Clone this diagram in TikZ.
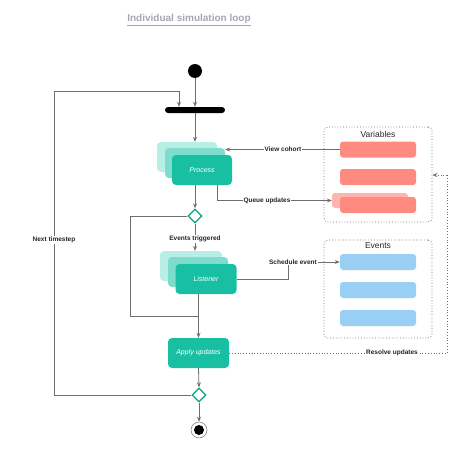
\documentclass[tikz,border=0pt]{standalone}
\usepackage{fontspec}
\setmainfont{Liberation Sans}
\usetikzlibrary{arrows.meta,shapes.geometric,calc}
\definecolor{tealA}{HTML}{19BFA3}
\definecolor{tealB}{HTML}{7EDCCD}
\definecolor{tealC}{HTML}{B9EEE6}
\definecolor{tealD}{HTML}{0E9F87}
\definecolor{salmon}{HTML}{FF8A80}
\definecolor{salmonL}{HTML}{FFB5AD}
\definecolor{skyb}{HTML}{99CFF5}
\definecolor{linec}{HTML}{6E6E6E}
\definecolor{titlec}{HTML}{A4A6B4}
\begin{document}
\begin{tikzpicture}[x=1pt,y=-1pt,
  conn/.style={draw=linec, line width=0.8pt},
  arr/.style={conn, -{Stealth[length=5pt,width=4pt]}},
  dots/.style={draw=linec, line width=0.8pt, dash pattern=on 0.8pt off 2pt},
  act/.style={rounded corners=4pt, inner sep=0pt, minimum width=60pt, minimum height=30pt},
  actfront/.style={act, fill=tealA, text=white, font=\itshape\fontsize{7}{8}\selectfont},
  lbl/.style={fill=white, inner sep=1pt, font=\bfseries\fontsize{6.5}{7}\selectfont, text=black!85},
  bin/.style={dots, rounded corners=4pt, minimum width=108pt, inner sep=0pt},
  item/.style={rounded corners=3pt, inner sep=0pt, minimum width=76pt, minimum height=16pt},
  dec/.style={diamond, draw=tealD, line width=1.3pt, fill=white, inner sep=0pt, minimum width=14pt, minimum height=14pt}
]
\useasboundingbox (0,0) rectangle (474,455);

% title
\node[font=\bfseries\fontsize{10}{12}\selectfont, text=titlec] (title) at (189,20) {\underline{Individual simulation loop}};

% start, bar
\node[circle, fill=black, inner sep=0pt, minimum size=14pt] (start) at (195,71) {};
\node[rectangle, rounded corners=3pt, fill=black, inner sep=0pt, minimum width=60pt, minimum height=6pt] (bar) at (195,110) {};

% process stack
\node[act, fill=tealC] (pback) at (187,157) {};
\node[act, fill=tealB] (pmid) at (195,163) {};
\node[actfront] (pfront) at (202,170) {Process};

% decision 1
\node[dec] (d1) at (195,216) {};

% listener stack
\node[act, fill=tealC, minimum width=62pt] (lback) at (191,266) {};
\node[act, fill=tealB] (lmid) at (198,272) {};
\node[actfront, minimum width=61pt] (lfront) at (206,279) {Listener};

% apply updates
\node[actfront, minimum width=61pt] (apply) at (198.5,353) {Apply updates};

% decision 2, end
\node[dec] (d2) at (199,395) {};
\node[circle, draw=linec, line width=0.5pt, fill=white, inner sep=0pt, minimum size=16pt] (end) at (199,430) {};
\node[circle, fill=black, inner sep=0pt, minimum size=10pt] (endin) at (end.center) {};

% Variables container
\node[bin, minimum height=95pt] (vars) at (378,174.5) {};
\node[font=\fontsize{8.5}{10}\selectfont, text=black!85] (varsl) at (378,134) {Variables};
\node[item, fill=salmon] (var1) at (378,149.5) {};
\node[item, fill=salmon] (var2) at (378,177) {};
\node[item, fill=salmonL, minimum height=15pt] (vshadow) at (370,200.5) {};
\node[item, fill=salmon] (var3) at (378,205) {};

% Events container
\node[bin, minimum height=98pt] (evs) at (378,289) {};
\node[font=\fontsize{8.5}{10}\selectfont, text=black!85] (evsl) at (378,246) {Events};
\node[item, fill=skyb] (ev1) at (378,262) {};
\node[item, fill=skyb] (ev2) at (378,290) {};
\node[item, fill=skyb] (ev3) at (378,318) {};

% coordinates
\coordinate (cl) at (54,91);
\coordinate (ci) at (130,316);
\coordinate (cs) at (288,270);
\coordinate (cr) at (447,175);

% connectors
\draw[arr] (start) -- (bar);
\draw[arr] (d2.west) -| (cl) -| ($(bar.north)+(-16,0)$);
\draw[arr] (bar.south) -- (bar.south |- pback.north);
\draw[arr] (var1.west) -- (var1.west -| pmid.east);
\draw[arr] ($(pfront.south west)+(46,0)$) |- (vshadow.west);
\draw[arr] (d1 |- pfront.south) -- (d1.north);
\draw[arr] (d1.south) -- (d1 |- lback.north);
\draw[conn] (d1.west) -| (ci) -- (ci -| apply);
\draw[arr] (lfront.south -| apply) -- (apply.north);
\draw[arr] (lfront.east) -- (lfront.east -| cs) |- (ev1.west);
\draw[arr] (apply.south) -- (d2.north);
\draw[arr] (d2.south) -- (end.north);
\draw[dots] (apply.east) -| (cr);
\draw[arr, dash pattern=on 0.8pt off 2pt] (cr) -- (cr -| vars.east);

% labels
\node[lbl] (lview) at (283,149.5) {View cohort};
\node[lbl] (lqueue) at (267,200.5) {Queue updates};
\node[lbl] (ltrig) at (195,239) {Events triggered};
\node[lbl] (lsched) at (293,262) {Schedule event};
\node[lbl] (lres) at (392,353) {Resolve updates};
\node[lbl] (lnext) at (54,240) {Next timestep};
\end{tikzpicture}
\end{document}
